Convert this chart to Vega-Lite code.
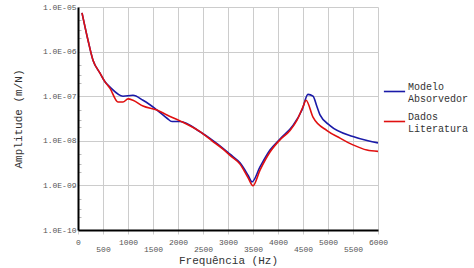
{
  "$schema": "https://vega.github.io/schema/vega-lite/v6.json",
  "width": 300,
  "height": 223,
  "autosize": "none",
  "padding": {"left": 78, "top": 7, "right": 96, "bottom": 38},
  "background": "white",
  "config": {
    "view": {"stroke": null},
    "font": "Liberation Mono"
  },
  "data": {
    "values": [
      {"f": 80, "A": 7.4e-6, "s": "Modelo Absorvedor"},
      {"f": 200, "A": 1.8e-6, "s": "Modelo Absorvedor"},
      {"f": 300, "A": 6.4e-7, "s": "Modelo Absorvedor"},
      {"f": 440, "A": 3.3e-7, "s": "Modelo Absorvedor"},
      {"f": 540, "A": 2.1e-7, "s": "Modelo Absorvedor"},
      {"f": 640, "A": 1.6e-7, "s": "Modelo Absorvedor"},
      {"f": 900, "A": 1.0e-7, "s": "Modelo Absorvedor"},
      {"f": 1100, "A": 1.05e-7, "s": "Modelo Absorvedor"},
      {"f": 1300, "A": 8.1e-8, "s": "Modelo Absorvedor"},
      {"f": 1580, "A": 4.9e-8, "s": "Modelo Absorvedor"},
      {"f": 1780, "A": 3.2e-8, "s": "Modelo Absorvedor"},
      {"f": 1880, "A": 2.7e-8, "s": "Modelo Absorvedor"},
      {"f": 2040, "A": 2.7e-8, "s": "Modelo Absorvedor"},
      {"f": 2440, "A": 1.6e-8, "s": "Modelo Absorvedor"},
      {"f": 2680, "A": 1.05e-8, "s": "Modelo Absorvedor"},
      {"f": 2900, "A": 6.8e-9, "s": "Modelo Absorvedor"},
      {"f": 3040, "A": 5.0e-9, "s": "Modelo Absorvedor"},
      {"f": 3240, "A": 3.2e-9, "s": "Modelo Absorvedor"},
      {"f": 3400, "A": 1.7e-9, "s": "Modelo Absorvedor"},
      {"f": 3480, "A": 1.2e-9, "s": "Modelo Absorvedor"},
      {"f": 3640, "A": 2.6e-9, "s": "Modelo Absorvedor"},
      {"f": 3840, "A": 6.2e-9, "s": "Modelo Absorvedor"},
      {"f": 4040, "A": 1.1e-8, "s": "Modelo Absorvedor"},
      {"f": 4300, "A": 2.2e-8, "s": "Modelo Absorvedor"},
      {"f": 4480, "A": 4.9e-8, "s": "Modelo Absorvedor"},
      {"f": 4600, "A": 1.1e-7, "s": "Modelo Absorvedor"},
      {"f": 4700, "A": 1.0e-7, "s": "Modelo Absorvedor"},
      {"f": 4780, "A": 5.8e-8, "s": "Modelo Absorvedor"},
      {"f": 4840, "A": 3.8e-8, "s": "Modelo Absorvedor"},
      {"f": 5040, "A": 2.2e-8, "s": "Modelo Absorvedor"},
      {"f": 5500, "A": 1.25e-8, "s": "Modelo Absorvedor"},
      {"f": 5800, "A": 1.0e-8, "s": "Modelo Absorvedor"},
      {"f": 6000, "A": 9.0e-9, "s": "Modelo Absorvedor"},
      {"f": 80, "A": 7.4e-6, "s": "Dados Literatura"},
      {"f": 200, "A": 1.8e-6, "s": "Dados Literatura"},
      {"f": 300, "A": 6.4e-7, "s": "Dados Literatura"},
      {"f": 440, "A": 3.3e-7, "s": "Dados Literatura"},
      {"f": 540, "A": 2.1e-7, "s": "Dados Literatura"},
      {"f": 640, "A": 1.5e-7, "s": "Dados Literatura"},
      {"f": 800, "A": 7.4e-8, "s": "Dados Literatura"},
      {"f": 900, "A": 7.4e-8, "s": "Dados Literatura"},
      {"f": 1000, "A": 8.7e-8, "s": "Dados Literatura"},
      {"f": 1100, "A": 8.1e-8, "s": "Dados Literatura"},
      {"f": 1300, "A": 6.0e-8, "s": "Dados Literatura"},
      {"f": 1580, "A": 4.9e-8, "s": "Dados Literatura"},
      {"f": 1780, "A": 3.8e-8, "s": "Dados Literatura"},
      {"f": 2040, "A": 2.8e-8, "s": "Dados Literatura"},
      {"f": 2440, "A": 1.6e-8, "s": "Dados Literatura"},
      {"f": 2680, "A": 1.0e-8, "s": "Dados Literatura"},
      {"f": 2900, "A": 6.5e-9, "s": "Dados Literatura"},
      {"f": 3040, "A": 4.7e-9, "s": "Dados Literatura"},
      {"f": 3240, "A": 3.0e-9, "s": "Dados Literatura"},
      {"f": 3400, "A": 1.5e-9, "s": "Dados Literatura"},
      {"f": 3500, "A": 9.8e-10, "s": "Dados Literatura"},
      {"f": 3640, "A": 2.2e-9, "s": "Dados Literatura"},
      {"f": 3840, "A": 5.6e-9, "s": "Dados Literatura"},
      {"f": 4040, "A": 1.05e-8, "s": "Dados Literatura"},
      {"f": 4240, "A": 1.7e-8, "s": "Dados Literatura"},
      {"f": 4380, "A": 2.9e-8, "s": "Dados Literatura"},
      {"f": 4500, "A": 5.8e-8, "s": "Dados Literatura"},
      {"f": 4560, "A": 8.1e-8, "s": "Dados Literatura"},
      {"f": 4700, "A": 3.4e-8, "s": "Dados Literatura"},
      {"f": 4980, "A": 1.7e-8, "s": "Dados Literatura"},
      {"f": 5240, "A": 1.15e-8, "s": "Dados Literatura"},
      {"f": 5500, "A": 8.1e-9, "s": "Dados Literatura"},
      {"f": 5780, "A": 6.2e-9, "s": "Dados Literatura"},
      {"f": 6000, "A": 5.8e-9, "s": "Dados Literatura"}
    ]
  },
  "mark": {"type": "line", "strokeWidth": 1.6, "clip": true, "interpolate": "monotone"},
  "encoding": {
    "x": {
      "field": "f",
      "type": "quantitative",
      "scale": {"domain": [0, 6000], "nice": false},
      "axis": {
        "title": "Frequência (Hz)",
        "titleFont": "Liberation Mono",
        "titleFontSize": 11,
        "titleFontWeight": "normal",
        "titleColor": "#333333",
        "titlePadding": 1,
        "values": [0, 500, 1000, 1500, 2000, 2500, 3000, 3500, 4000, 4500, 5000, 5500, 6000],
        "format": "d",
        "labelFont": "Liberation Mono",
        "labelFontSize": 8,
        "labelColor": "#555555",
        "labelPadding": {"condition": {"test": "datum.value % 1000 !== 0", "value": 11}, "value": 4},
        "labelFlush": false,
        "labelOverlap": false,
        "tickSize": 4,
        "tickColor": "#cccccc",
        "gridColor": "#cccccc",
        "gridWidth": 1,
        "domainColor": "#000000",
        "domainWidth": 2
      }
    },
    "y": {
      "field": "A",
      "type": "quantitative",
      "scale": {"type": "log", "domain": [1e-10, 1e-5], "nice": false},
      "axis": {
        "title": "Amplitude (m/N)",
        "titleFont": "Liberation Mono",
        "titleFontSize": 11,
        "titleFontWeight": "normal",
        "titleColor": "#333333",
        "titlePadding": 19,
        "values": [1e-10, 2e-10, 3e-10, 5e-10, 1e-9, 2e-9, 3e-9, 5e-9, 1e-8, 2e-8, 3e-8, 5e-8, 1e-7, 2e-7, 3e-7, 5e-7, 1e-6, 2e-6, 3e-6, 5e-6, 1e-5],
        "labelExpr": "abs(log(datum.value)/LN10 - round(log(datum.value)/LN10)) < 0.01 ? (-round(log(datum.value)/LN10) < 10 ? '1.0E-0' + (-round(log(datum.value)/LN10)) : '1.0E-' + (-round(log(datum.value)/LN10))) : ''",
        "labelFont": "Liberation Mono",
        "labelFontSize": 8,
        "labelColor": "#555555",
        "labelPadding": 2,
        "labelFlush": false,
        "labelOverlap": false,
        "tickSize": {"condition": {"test": "abs(log(datum.value)/LN10 - round(log(datum.value)/LN10)) < 0.01", "value": 0}, "value": -3},
        "tickColor": "#bbbbbb",
        "gridOpacity": {"condition": {"test": "abs(log(datum.value)/LN10 - round(log(datum.value)/LN10)) < 0.01", "value": 1}, "value": 0},
        "gridColor": "#cccccc",
        "gridWidth": 1,
        "domainColor": "#000000",
        "domainWidth": 2
      }
    },
    "color": {
      "field": "s",
      "type": "nominal",
      "scale": {"domain": ["Modelo Absorvedor", "Dados Literatura"], "range": ["#1a1aa8", "#e01010"]},
      "legend": {
        "title": null,
        "orient": "none",
        "legendX": 305,
        "legendY": 73,
        "symbolType": "stroke",
        "symbolSize": 450,
        "symbolStrokeWidth": 1.6,
        "labelFont": "Liberation Mono",
        "labelFontSize": 10,
        "labelColor": "#333333",
        "labelExpr": "split(datum.label, ' ')",
        "labelBaseline": "bottom",
        "rowPadding": 6,
        "labelOffset": 2
      }
    }
  }
}
